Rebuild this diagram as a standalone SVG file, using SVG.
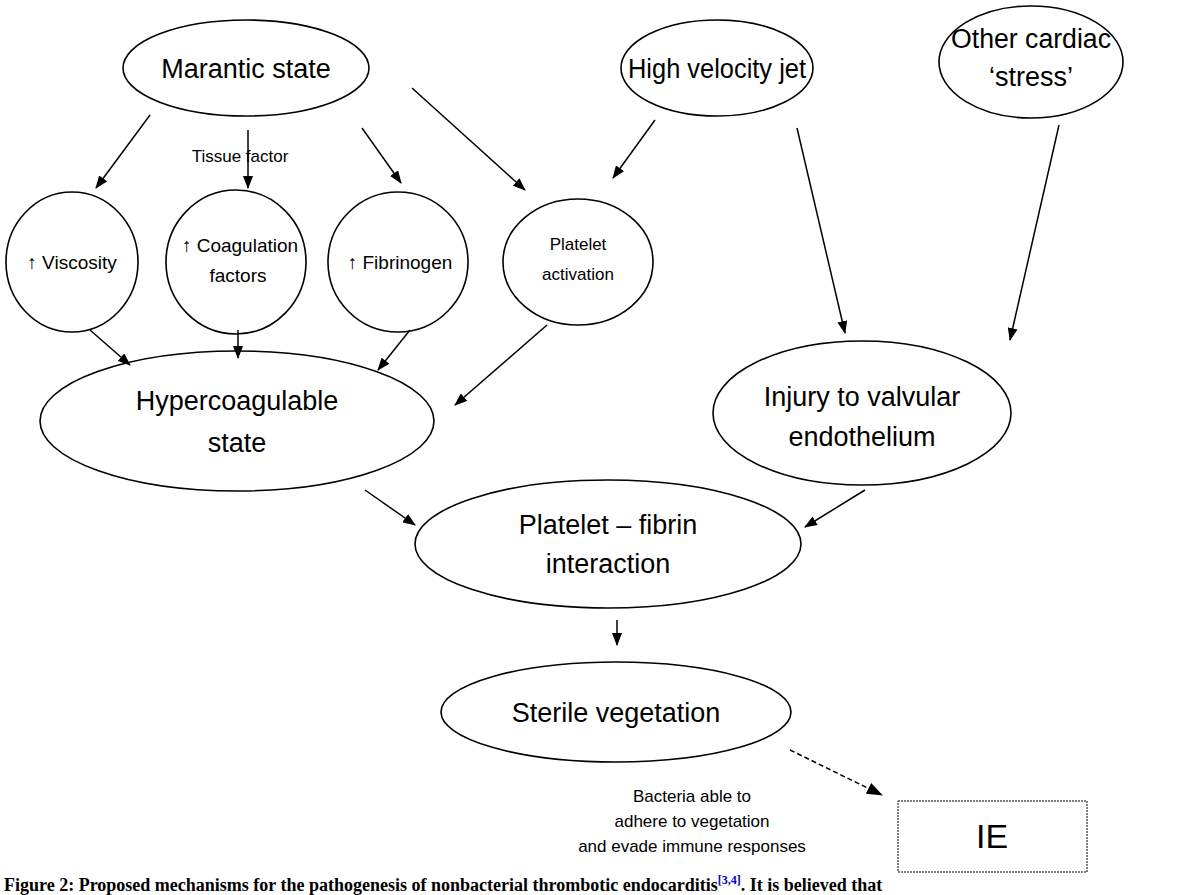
<svg xmlns="http://www.w3.org/2000/svg" width="1200" height="895" viewBox="0 0 1200 895">
<defs>
<marker id="ah" markerWidth="13" markerHeight="10" refX="12" refY="5" orient="auto" markerUnits="userSpaceOnUse"><path d="M0,0 L13,5 L0,10 z" fill="#000"/></marker>
<marker id="ahd" markerWidth="16" markerHeight="12" refX="15" refY="6" orient="auto" markerUnits="userSpaceOnUse"><path d="M0,0 L16,6 L0,12 z" fill="#000"/></marker>
</defs>
<style>
ellipse{fill:#fff;stroke:#000;stroke-width:1.6}
text{font-family:"Liberation Sans",Arial,sans-serif;fill:#000;text-anchor:middle}
.l{font-size:27px}.m{font-size:19px}.s{font-size:17px}
.c line{stroke:#000;stroke-width:1.5;marker-end:url(#ah)}
</style>
<rect width="1200" height="895" fill="#fff"/>
<g id="marantic"><ellipse cx="246" cy="68" rx="123" ry="48"/><text class="l" x="246" y="78">Marantic state</text></g>
<g id="jet"><ellipse cx="717" cy="68" rx="96" ry="48"/><text class="l" x="717" y="78" textLength="178" lengthAdjust="spacingAndGlyphs">High velocity jet</text></g>
<g id="stress"><ellipse cx="1031" cy="62" rx="92" ry="56"/><text class="l" x="1031" y="48" textLength="160" lengthAdjust="spacingAndGlyphs">Other cardiac</text><text class="l" x="1031" y="86">‘stress’</text></g>
<g id="viscosity"><ellipse cx="72" cy="262" rx="66" ry="70"/><text class="m" x="72" y="269">↑ Viscosity</text></g>
<g id="coag"><ellipse cx="236" cy="262" rx="70" ry="72"/><text class="m" x="240" y="252">↑ Coagulation</text><text class="m" x="238" y="282">factors</text></g>
<g id="fibrinogen"><ellipse cx="398" cy="262" rx="70" ry="70"/><text class="m" x="400" y="269">↑ Fibrinogen</text></g>
<g id="platelet"><ellipse cx="578" cy="262" rx="75" ry="63"/><text class="s" x="578" y="250">Platelet</text><text class="s" x="578" y="280">activation</text></g>
<g id="hyper"><ellipse cx="237" cy="421" rx="197" ry="70"/><text class="l" x="237" y="410">Hypercoagulable</text><text class="l" x="237" y="452">state</text></g>
<g id="injury"><ellipse cx="862" cy="413" rx="149" ry="72"/><text class="l" x="862" y="406">Injury to valvular</text><text class="l" x="862" y="446">endothelium</text></g>
<g id="pf"><ellipse cx="608" cy="544" rx="193" ry="64"/><text class="l" x="608" y="534">Platelet – fibrin</text><text class="l" x="608" y="573">interaction</text></g>
<g id="sterile"><ellipse cx="616" cy="712" rx="175" ry="50"/><text class="l" x="616" y="722">Sterile vegetation</text></g>
<g id="ie"><rect x="898" y="801" width="189" height="71" fill="#fff" stroke="#000" stroke-width="1" stroke-dasharray="2,1"/><text x="992" y="848" style="font-size:34px">IE</text></g>
<g id="connectors" class="c">
<line x1="150" y1="115" x2="96" y2="188"/>
<line x1="248" y1="130" x2="248" y2="188"/>
<line x1="362" y1="128" x2="401" y2="183"/>
<line x1="412" y1="88" x2="525" y2="190"/>
<line x1="655" y1="120" x2="613" y2="178"/>
<line x1="797" y1="128" x2="845" y2="333"/>
<line x1="1059" y1="125" x2="1010" y2="340"/>
<line x1="90" y1="330" x2="130" y2="365"/>
<line x1="238" y1="330" x2="238" y2="358"/>
<line x1="410" y1="330" x2="378" y2="370"/>
<line x1="547" y1="325" x2="455" y2="405"/>
<line x1="365" y1="490" x2="415" y2="525"/>
<line x1="865" y1="490" x2="805" y2="527"/>
<line x1="617" y1="620" x2="617" y2="645"/>
<line x1="790" y1="750" x2="882" y2="795" style="stroke-dasharray:5,3;marker-end:url(#ahd)"/>
</g>
<text class="s" x="240" y="162">Tissue factor</text>
<text class="s" x="692" y="802">Bacteria able to</text>
<text class="s" x="692" y="827">adhere to vegetation</text>
<text class="s" x="692" y="852">and evade immune responses</text>
<text x="4" y="891" style="font-family:'Liberation Serif',serif;font-size:18px;text-anchor:start;font-weight:bold">Figure 2: Proposed mechanisms for the pathogenesis of nonbacterial thrombotic endocarditis<tspan fill="#00c" font-size="12" dy="-7">[3,4]</tspan><tspan dy="7">. It is believed that</tspan></text>
</svg>
